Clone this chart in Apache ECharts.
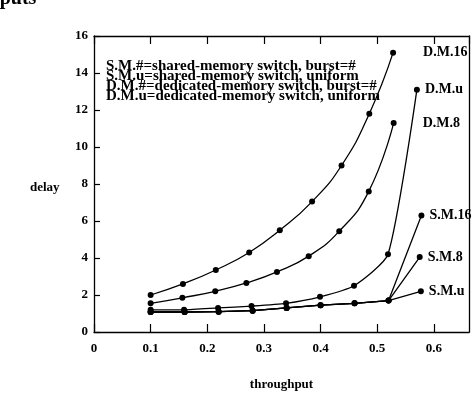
<!DOCTYPE html>
<html>
<head>
<meta charset="utf-8">
<script src="https://cdn.jsdelivr.net/npm/echarts@6/dist/echarts.min.js"></script>
<style>
html, body { margin: 0; padding: 0; background: #fff; }
#main { width: 474px; height: 396px; }
</style>
</head>
<body>
<div id="main"></div>
<script>
var dom = document.getElementById('main');
var myChart = echarts.init(dom);

// D.M. curves (dedicated-memory switch)
var dm16X = [0.1, 0.157, 0.215, 0.274, 0.328, 0.385, 0.437, 0.486, 0.528];
var dm16Y = [2.0, 2.6, 3.35, 4.3, 5.5, 7.05, 9.0, 11.8, 15.1];
var dm8X = [0.1, 0.156, 0.214, 0.269, 0.323, 0.379, 0.433, 0.485, 0.529];
var dm8Y = [1.55, 1.85, 2.2, 2.65, 3.25, 4.1, 5.45, 7.6, 11.3];
var dmuX = [0.1, 0.159, 0.219, 0.278, 0.339, 0.399, 0.459, 0.519, 0.57];
var dmuY = [1.2, 1.2, 1.3, 1.4, 1.55, 1.9, 2.5, 4.2, 13.1];
// S.M. curves share the low part, then fan out
var smX = [0.1, 0.16, 0.22, 0.28, 0.34, 0.4, 0.46, 0.52];
var smY = [1.08, 1.08, 1.1, 1.15, 1.3, 1.45, 1.55, 1.7];
var sm16End = [0.578, 6.3];
var sm8End = [0.575, 4.05];
var smuEnd = [0.577, 2.2];

var legendLines = [
  'S.M.#=shared-memory switch, burst=#',
  'S.M.u=shared-memory switch, uniform',
  'D.M.#=dedicated-memory switch, burst=#',
  'D.M.u=dedicated-memory switch, uniform'
];

var serif = '"Liberation Serif", "DejaVu Serif", serif';

function pairs(xs, ys, end) {
  var res = [];
  for (var i = 0; i < xs.length; i++) res.push([xs[i], ys[i]]);
  if (end) res.push(end);
  return res;
}

function curve(name, data, smooth, dx) {
  return {
    name: name,
    type: 'line',
    data: data,
    smooth: smooth,
    symbol: 'circle',
    symbolSize: 6,
    lineStyle: { color: '#000', width: 1.3 },
    itemStyle: { color: '#000' },
    endLabel: {
      show: true,
      formatter: name,
      color: '#000',
      fontFamily: serif,
      fontWeight: 'bold',
      fontSize: 14,
      offset: [dx, 0]
    },
    z: 3
  };
}

var tickLabel = function (v) {
  return Math.abs(v * 10 - Math.round(v * 10)) < 1e-6 ? String(Math.round(v * 10) / 10) : '';
};

var line = { show: true, onZero: false, lineStyle: { color: '#000', width: 1.3 } };
var xTick = { show: true, inside: true, length: 8, lineStyle: { color: '#000', width: 1.2 } };
var yTick = { show: true, inside: true, length: 6, lineStyle: { color: '#000', width: 1.2 } };

option = {
  backgroundColor: '#fff',
  animation: false,
  grid: { left: 94, right: 5, top: 36, bottom: 60 },
  xAxis: [{
    type: 'value', min: 0, max: 0.662, interval: 0.1,
    name: 'throughput', nameLocation: 'middle', nameGap: 46,
    nameTextStyle: { color: '#000', fontFamily: serif, fontWeight: 'bold', fontSize: 13 },
    axisLine: line,
    axisTick: xTick,
    axisLabel: { color: '#000', fontFamily: serif, fontWeight: 'bold', fontSize: 13, margin: 10, formatter: tickLabel, showMaxLabel: false },
    splitLine: { show: false }
  }, {
    type: 'value', position: 'top', min: 0, max: 0.662, interval: 0.1,
    axisLine: line,
    axisTick: xTick,
    axisLabel: { show: false },
    splitLine: { show: false }
  }],
  yAxis: [{
    type: 'value', min: 0, max: 16, interval: 2,
    axisLine: line,
    axisTick: yTick,
    axisLabel: { color: '#000', fontFamily: serif, fontWeight: 'bold', fontSize: 13, margin: 6 },
    splitLine: { show: false }
  }, {
    type: 'value', position: 'right', min: 0, max: 16, interval: 2,
    axisLine: line,
    axisTick: { show: false },
    axisLabel: { show: false },
    splitLine: { show: false }
  }],
  graphic: [{
    type: 'text', left: -17, top: -11,
    style: { text: 'inputs', fill: '#000', font: 'bold 20px ' + serif }
  }, {
    type: 'text', left: 30, top: 181,
    style: { text: 'delay', fill: '#000', font: 'bold 13px ' + serif }
  }, {
    type: 'text', left: 106, top: 59,
    style: { text: legendLines.join('\n'), fill: '#000', font: 'bold 15px ' + serif, lineHeight: 10 }
  }],
  series: [
    curve('D.M.16', pairs(dm16X, dm16Y), 0.5, 22),
    curve('D.M.8', pairs(dm8X, dm8Y), 0.5, 21),
    curve('D.M.u', pairs(dmuX, dmuY), 0.2, 0),
    curve('S.M.16', pairs(smX, smY, sm16End), false, 0),
    curve('S.M.8', pairs(smX, smY, sm8End), false, 0),
    curve('S.M.u', pairs(smX, smY, smuEnd), false, 0),
    // frame axes need a series to be drawn
    { type: 'line', xAxisIndex: 1, yAxisIndex: 1, data: [], silent: true }
  ]
};
myChart.setOption(option);
</script>
</body>
</html>
